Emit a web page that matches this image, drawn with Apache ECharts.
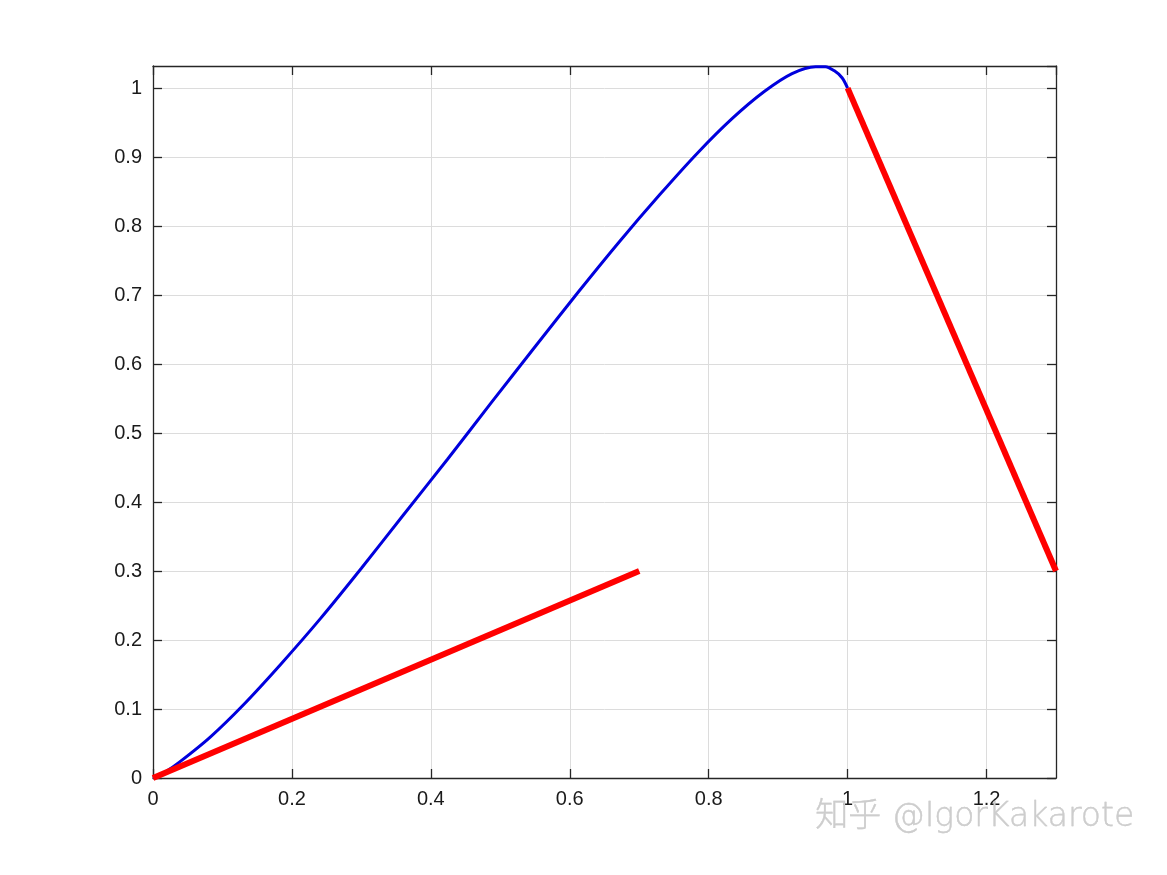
<!DOCTYPE html>
<html>
<head>
<meta charset="utf-8">
<script src="https://cdn.jsdelivr.net/npm/echarts@6/dist/echarts.min.js"></script>
<style>
html,body{margin:0;padding:0;background:#fff;}
#chart{width:1167px;height:875px;}
</style>
</head>
<body>
<div id="chart"></div>
<script>
// Blue curve points
var curveX = [0, 0.018, 0.038, 0.082, 0.131, 0.184, 0.241, 0.300, 0.361, 0.424, 0.487, 0.550, 0.612, 0.672, 0.730, 0.784, 0.834, 0.880, 0.920, 0.954, 0.968, 0.981, 0.992, 1.0];
var curveY = [0, 0.009, 0.023, 0.059, 0.107, 0.165, 0.231, 0.304, 0.382, 0.462, 0.544, 0.625, 0.704, 0.778, 0.846, 0.906, 0.956, 0.995, 1.021, 1.031, 1.031, 1.025, 1.015, 1.0];
// Red line segments
var red1X = [0, 0.7];
var red1Y = [0, 0.3];
var red2X = [1, 1.3];
var red2Y = [1, 0.3];
// Axis ranges / ticks
var xMin = 0, xMax = 1.3, xStep = 0.2;
var yMin = 0, yMax = 1.032, yStep = 0.1;
var watermark = '知乎 @IgorKakarote';

function pairs(xs, ys){ return xs.map(function(x,i){ return [x, ys[i]]; }); }

var axisColor = '#262626';
var font = 'Liberation Sans, Arial, Helvetica, sans-serif';

var chart = echarts.init(document.getElementById('chart'), null, {renderer:'canvas'});
var baseX = {
  type:'value', min:xMin, max:xMax, interval:xStep,
  axisLine:{show:true, onZero:false, lineStyle:{color:axisColor, width:1.3}},
  axisTick:{show:true, inside:true, length:9, lineStyle:{color:axisColor, width:1.3}},
  splitLine:{show:true, lineStyle:{color:'#dcdcdc', width:1}}
};
var baseY = {
  type:'value', min:yMin, max:yMax, interval:yStep,
  axisLine:{show:true, onZero:false, lineStyle:{color:axisColor, width:1.3}},
  axisTick:{show:true, inside:true, length:9, lineStyle:{color:axisColor, width:1.3}},
  splitLine:{show:true, lineStyle:{color:'#dcdcdc', width:1}}
};
var option = {
  backgroundColor:'#fff',
  animation:false,
  grid:{left:153, right:111, top:66, bottom:97, containLabel:false},
  xAxis:[
    Object.assign({}, baseX, {position:'bottom',
      axisLabel:{show:true, margin:11, color:'#1a1a1a', fontSize:20, fontFamily:font, showMaxLabel:false,
        formatter:function(v){ return String(+v.toFixed(1)); }}}),
    Object.assign({}, baseX, {position:'top', axisLabel:{show:false}, splitLine:{show:false}})
  ],
  yAxis:[
    Object.assign({}, baseY, {position:'left',
      axisLabel:{show:true, margin:11, color:'#1a1a1a', fontSize:20, fontFamily:font, showMaxLabel:false,
        formatter:function(v){ return String(+v.toFixed(1)); }}}),
    Object.assign({}, baseY, {position:'right', axisLabel:{show:false}, splitLine:{show:false}})
  ],
  series:[
    {type:'line', data:pairs(curveX, curveY), smooth:0.3, showSymbol:false, symbol:'none',
      lineStyle:{color:'#0000dd', width:3}, z:3},
    {type:'line', data:pairs(red1X, red1Y), showSymbol:false, symbol:'none',
      lineStyle:{color:'#ff0000', width:6}, z:4},
    {type:'line', data:pairs(red2X, red2Y), showSymbol:false, symbol:'none',
      lineStyle:{color:'#ff0000', width:6}, z:4}
  ],
  graphic:[
    {type:'text', left:815, top:801, z:100,
      style:{text:watermark, fontSize:33, fontWeight:200, fontFamily:'DejaVu Sans, Noto Sans CJK SC, sans-serif',
        fill:'#cdcdcd', stroke:'#b4b4b4', lineWidth:0.3}}
  ]
};
chart.setOption(option);
</script>
</body>
</html>
